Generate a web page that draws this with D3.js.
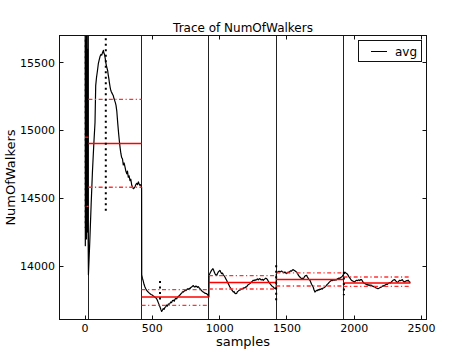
<!DOCTYPE html>
<html><head><meta charset="utf-8">
<script src="https://cdn.jsdelivr.net/npm/d3@7"></script>
<style>body{margin:0;background:#fff}svg{display:block}text{font-family:"DejaVu Sans",sans-serif;fill:#000}</style>
</head><body>
<svg id="c" width="474" height="355"></svg>
<script>
const traceSamples = [0,2,4,6,8,10,12,14,16,18,20,22,25,
35,45,55,65,74,79,85,92,99,105,111,118,124,130,136,140,145,150,153,158,163,168,172,177,181,186,190,195,200,205,210,215,220,225,230,236,243,250,255,260,266,272,278,284,290,297,303,310,315,321,327,334,340,347,353,359,365,371,377,384,390,396,402,408,414,420,
421,426,432,438,445,452,458,465,472,478,483,490,496,501,507,513,520,526,532,538,544,550,557,563,569,575,581,587,594,600,606,612,619,625,631,637,643,650,656,662,668,675,681,687,693,700,705,712,718,724,730,737,743,749,755,762,768,774,780,786,792,798,804,810,816,822,829,835,841,847,854,860,866,872,878,884,890,896,903,909,915,920,
921,925,930,935,940,945,950,955,960,965,971,978,984,990,996,1002,1008,1015,1021,1027,1033,1039,1046,1052,1058,1064,1070,1076,1083,1089,1095,1101,1107,1113,1120,1126,1132,1138,1145,1151,1157,1163,1169,1175,1181,1188,1194,1200,1206,1212,1218,1225,1231,1237,1243,1250,1256,1262,1268,1275,1281,1287,1293,1299,1305,1312,1318,1324,1330,1336,1342,1349,1355,1361,1367,1374,1380,1386,1392,1398,1405,1411,1416,1420,
1421,1427,1435,1441,1448,1454,1460,1466,1472,1478,1485,1491,1497,1503,1510,1516,1522,1528,1534,1540,1547,1553,1559,1565,1572,1578,1584,1590,1596,1603,1609,1615,1621,1627,1633,1640,1646,1652,1658,1664,1671,1677,1683,1689,1695,1701,1708,1714,1720,1726,1732,1738,1744,1751,1757,1763,1769,1775,1782,1788,1794,1800,1806,1812,1819,1825,1831,1837,1843,1850,1856,1862,1868,1874,1881,1887,1893,1899,1906,1912,1918,1923,
1930,1938,1944,1950,1955,1961,1968,1974,1980,1986,1992,1998,2004,2010,2017,2023,2029,2035,2041,2047,2054,2060,2066,2072,2079,2085,2091,2097,2103,2109,2116,2122,2128,2134,2140,2147,2153,2159,2165,2171,2177,2183,2190,2196,2202,2208,2214,2221,2227,2233,2239,2245,2252,2258,2264,2270,2276,2282,2289,2295,2301,2307,2313,2320,2326,2332,2338,2344,2351,2357,2363,2369,2375,2381,2388,2394,2400,2406,2412,2418];
const traceValues = [16900,14150,16600,14250,16300,14200,16100,14300,15900,14250,15600,14300,13935,
14180,14450,14700,14900,15060,15330,15390,15440,15495,15520,15545,15560,15555,15575,15590,15570,15560,15530,15505,15480,15460,15440,15410,15380,15350,15320,15300,15285,15275,15265,15255,15235,15220,15205,15185,15140,15050,14970,14920,14875,14830,14800,14790,14745,14760,14730,14700,14680,14700,14655,14665,14630,14640,14595,14580,14570,14575,14585,14600,14610,14600,14620,14605,14595,14600,14580,
13935,13910,13890,13865,13845,13830,13820,13812,13805,13800,13795,13790,13788,13783,13780,13775,13770,13765,13758,13745,13730,13715,13698,13680,13665,13675,13686,13680,13695,13700,13712,13705,13720,13718,13725,13735,13730,13745,13748,13740,13755,13762,13758,13770,13775,13782,13786,13795,13800,13810,13808,13815,13822,13818,13825,13832,13828,13836,13834,13842,13846,13850,13856,13848,13845,13852,13850,13842,13848,13840,13833,13825,13818,13812,13808,13804,13800,13798,13796,13790,13782,13771,
13920,13940,13950,13960,13968,13975,13980,13970,13955,13944,13935,13930,13945,13956,13962,13968,13955,13944,13948,13935,13928,13919,13905,13895,13880,13870,13858,13845,13835,13825,13818,13808,13812,13800,13796,13798,13810,13815,13822,13821,13830,13828,13835,13833,13840,13838,13846,13845,13855,13862,13865,13870,13878,13883,13888,13895,13892,13898,13895,13900,13905,13898,13904,13907,13900,13898,13902,13895,13900,13905,13910,13907,13900,13888,13880,13870,13862,13855,13850,13845,13838,13834,13833,13830,
13940,13955,13958,13962,13956,13960,13963,13958,13955,13950,13956,13948,13944,13950,13955,13952,13960,13965,13962,13970,13973,13968,13965,13960,13956,13945,13935,13925,13919,13912,13905,13910,13907,13915,13925,13930,13931,13920,13910,13900,13895,13880,13865,13855,13845,13825,13808,13815,13820,13818,13826,13822,13830,13828,13833,13830,13838,13840,13845,13850,13858,13865,13870,13878,13885,13890,13895,13892,13898,13895,13895,13900,13898,13905,13907,13912,13908,13915,13919,13925,13935,13944,
13955,13949,13945,13938,13931,13920,13910,13902,13895,13890,13888,13885,13882,13890,13895,13892,13895,13898,13892,13900,13900,13890,13880,13875,13870,13868,13862,13865,13858,13862,13855,13860,13858,13852,13848,13850,13845,13840,13838,13835,13833,13836,13840,13842,13845,13850,13855,13852,13858,13862,13866,13864,13870,13875,13878,13876,13882,13888,13895,13898,13900,13892,13885,13880,13882,13890,13895,13892,13895,13900,13890,13885,13882,13888,13892,13890,13895,13888,13880,13882];

const boundaries = [25, 420, 920, 1420, 1920];
const segStart = [0, 25, 420, 920, 1420, 1920];
const segEnd   = [25, 420, 920, 1420, 1920, 2418];
const segMean  = [14950, 14903, 13771, 13878, 13900, 13875];
const segLow   = [14440, 14581, 13710, 13830, 13853, 13850];
const segHigh  = [15800, 15229, 13826, 13929, 13949, 13919];
const errX    = [5, 154, 557, 1420, 1923];
const errLow  = [14280, 14387, 13735, 13725, 13784];
const errHigh = [15750, 15679, 13889, 14005, 13956];
const xTicks = [0, 500, 1000, 1500, 2000, 2500];
const yTicks = [14000, 14500, 15000, 15500];

const L = 59.5, T = 35.5, W = 367, H = 284;
const x = d3.scaleLinear().domain([-190, 2537]).range([L, L + W]);
const y = d3.scaleLinear().domain([13605.5, 15700]).range([T + H, T]);
const snap = v => Math.round(v - 0.5) + 0.5;
const svg = d3.select("#c");

svg.append("defs").append("clipPath").attr("id", "clip")
  .append("rect").attr("x", L).attr("y", T).attr("width", W).attr("height", H);
const g = svg.append("g").attr("clip-path", "url(#clip)");

// segment boundaries
g.selectAll("line.bnd").data(boundaries).join("line").attr("class", "bnd")
  .attr("x1", d => snap(x(d))).attr("x2", d => snap(x(d))).attr("y1", T).attr("y2", T + H)
  .attr("stroke", "#222").attr("stroke-width", 1);

// trace
const pts = traceSamples.map((s, i) => [s, traceValues[i]]);
g.append("path").datum(pts)
  .attr("d", d3.line().x(d => x(d[0])).y(d => y(d[1])))
  .attr("fill", "none").attr("stroke", "#000").attr("stroke-width", 1.2).attr("stroke-linejoin", "round");

// red mean and std lines
const segs = segStart.map((s, i) => ({s, e: segEnd[i], m: segMean[i], lo: segLow[i], hi: segHigh[i]}));
g.selectAll("line.mean").data(segs).join("line").attr("class", "mean")
  .attr("x1", d => x(d.s)).attr("x2", d => x(d.e)).attr("y1", d => y(d.m)).attr("y2", d => y(d.m))
  .attr("stroke", "#f00").attr("stroke-width", 1.6);
["lo", "hi"].forEach(k => {
  g.selectAll("line.sd" + k).data(segs).join("line").attr("class", "sd" + k)
    .attr("x1", d => x(d.s)).attr("x2", d => x(d.e)).attr("y1", d => y(d[k])).attr("y2", d => y(d[k]))
    .attr("stroke", "#f33").attr("stroke-width", 1.4).attr("stroke-dasharray", "4,2.5,1.2,2.5");
});

// dotted error bars
g.selectAll("line.err").data(errX).join("line").attr("class", "err")
  .attr("x1", d => x(d)).attr("x2", d => x(d))
  .attr("y1", (d, i) => y(errHigh[i])).attr("y2", (d, i) => y(errLow[i]))
  .attr("stroke", "#000").attr("stroke-width", 2).attr("stroke-dasharray", "2,3.5");

// frame
svg.append("rect").attr("x", L).attr("y", T).attr("width", W).attr("height", H)
  .attr("fill", "none").attr("stroke", "#111").attr("stroke-width", 1);

// ticks (inward, all sides)
const tl = 4;
xTicks.forEach(t => {
  const px = snap(x(t));
  svg.append("line").attr("x1", px).attr("x2", px).attr("y1", T + H).attr("y2", T + H - tl).attr("stroke", "#111");
  svg.append("line").attr("x1", px).attr("x2", px).attr("y1", T).attr("y2", T + tl).attr("stroke", "#111");
  svg.append("text").attr("x", x(t)).attr("y", 332).attr("text-anchor", "middle").attr("font-size", 11).text(t);
});
yTicks.forEach(t => {
  const py = snap(y(t));
  svg.append("line").attr("x1", L).attr("x2", L + tl).attr("y1", py).attr("y2", py).attr("stroke", "#111");
  svg.append("line").attr("x1", L + W).attr("x2", L + W - tl).attr("y1", py).attr("y2", py).attr("stroke", "#111");
  svg.append("text").attr("x", 55).attr("y", y(t) + 4).attr("text-anchor", "end").attr("font-size", 11).text(t);
});

// titles
svg.append("text").attr("x", L + W / 2).attr("y", 31.5).attr("text-anchor", "middle").attr("font-size", 12).text("Trace of NumOfWalkers");
svg.append("text").attr("x", L + W / 2).attr("y", 345.5).attr("text-anchor", "middle").attr("font-size", 13).text("samples");
svg.append("text").attr("transform", `translate(15,${T + H / 2}) rotate(-90)`).attr("text-anchor", "middle").attr("font-size", 13).text("NumOfWalkers");

// legend
const lg = svg.append("g");
lg.append("rect").attr("x", 358.5).attr("y", 40.5).attr("width", 63).attr("height", 21)
  .attr("fill", "#fff").attr("stroke", "#111").attr("stroke-width", 1);
lg.append("line").attr("x1", 371).attr("x2", 387).attr("y1", 51.5).attr("y2", 51.5).attr("stroke", "#000").attr("stroke-width", 1);
lg.append("text").attr("x", 395).attr("y", 55.5).attr("font-size", 12).text("avg");
</script>
</body></html>
